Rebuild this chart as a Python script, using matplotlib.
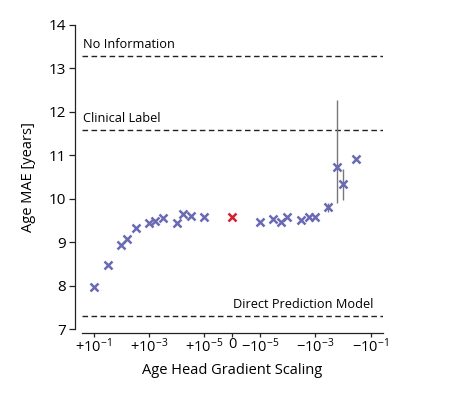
import numpy as np
import matplotlib
matplotlib.use("Agg")
import matplotlib.pyplot as plt

plt.rcParams['font.family'] = ['Open Sans', 'DejaVu Sans']
plt.rcParams['mathtext.fontset'] = 'custom'
plt.rcParams['mathtext.rm'] = 'Open Sans'
plt.rcParams['mathtext.it'] = 'Open Sans'
plt.rcParams['mathtext.bf'] = 'Open Sans'

# gradient scaling of the age head (positive side, then negative side)
scaling = [1e-1, 3e-2, 1e-2, 6e-3, 3e-3, 1e-3, 6e-4, 3e-4, 1e-4, 6e-5, 3e-5, 1e-5,
           -1e-5, -3e-5, -6e-5, -1e-4, -3e-4, -6e-4, -1e-3, -3e-3, -6e-3, -1e-2, -3e-2]
mae = [7.97, 8.47, 8.94, 9.07, 9.33, 9.43, 9.49, 9.55, 9.45, 9.65, 9.59, 9.58,
       9.47, 9.54, 9.47, 9.57, 9.51, 9.57, 9.57, 9.82, 10.72, 10.33, 10.91]
err_lo = [0, 0, 0, 0, 0, 0, 0, 0, 0, 0, 0, 0,
          0, 0, 0, 0, 0, 0, 0, 0.12, 0.83, 0.36, 0]
err_hi = [0, 0, 0, 0, 0, 0, 0, 0, 0, 0, 0, 0,
          0, 0, 0, 0, 0, 0, 0, 0.07, 1.55, 0.35, 0]

# baseline (no gradient scaling)
zero_scaling = [0.0]
zero_mae = [9.57]

# reference levels
ref_names = ['No Information', 'Clinical Label', 'Direct Prediction Model']
ref_values = [13.29, 11.58, 7.30]

xtick_vals = [1e-1, 1e-3, 1e-5, 0, -1e-5, -1e-3, -1e-1]
xtick_labels = [r'$+10^{-1}$', r'$+10^{-3}$', r'$+10^{-5}$', '0',
                r'$-10^{-5}$', r'$-10^{-3}$', r'$-10^{-1}$']

fig = plt.figure(figsize=(4.74, 3.95), dpi=100)
ax = fig.add_axes([0.173, 0.167, 0.635, 0.770])

ax.set_xscale('symlog', linthresh=1e-5, linscale=0.9)

# reference lines
for name, val in zip(ref_names, ref_values):
    ax.axhline(val, color='#222222', ls=(0, (4, 2.5)), lw=1.0)

ax.text(2.35e-1, ref_values[0] + 0.12, ref_names[0], fontsize=9.2, va='bottom', ha='left')
ax.text(2.35e-1, ref_values[1] + 0.12, ref_names[1], fontsize=9.2, va='bottom', ha='left')
ax.text(-1.3e-1, ref_values[2] + 0.12, ref_names[2], fontsize=9.2, va='bottom', ha='right')

ax.errorbar(scaling, mae, yerr=[err_lo, err_hi], fmt='none', ecolor='#777777',
            elinewidth=1.0, capsize=0, zorder=2)
ax.plot(scaling, mae, ls='none', marker='x', ms=5.5, mew=1.8, color='#6a6ab4', zorder=3)
ax.plot(zero_scaling, zero_mae, ls='none', marker='x', ms=5.5, mew=1.8, color='#d4202c', zorder=3)

ax.set_xlim(0.26, -0.28)
ax.set_ylim(7, 14)
ax.set_yticks(range(7, 15))
ax.set_xticks(xtick_vals)
ax.set_xticklabels(xtick_labels)
ax.xaxis.set_minor_locator(matplotlib.ticker.NullLocator())
ax.xaxis.get_major_ticks()[3].tick1line.set_visible(False)

ax.spines['top'].set_visible(False)
ax.spines['right'].set_visible(False)
ax.spines['left'].set_position(('outward', 5))
ax.spines['bottom'].set_position(('outward', 3))
for s in ['left', 'bottom']:
    ax.spines[s].set_linewidth(0.9)
    ax.spines[s].set_color('#222222')

ax.tick_params(axis='y', length=4.5, width=0.9, labelsize=11, pad=2, color='#222222')
ax.tick_params(axis='x', length=3, width=0.9, labelsize=10.5, pad=0, color='#222222')

ax.set_xlabel('Age Head Gradient Scaling', fontsize=10.5, labelpad=5)
ax.set_ylabel('Age MAE [years]', fontsize=10.5, labelpad=9)

fig.savefig('out.png', dpi=100)
